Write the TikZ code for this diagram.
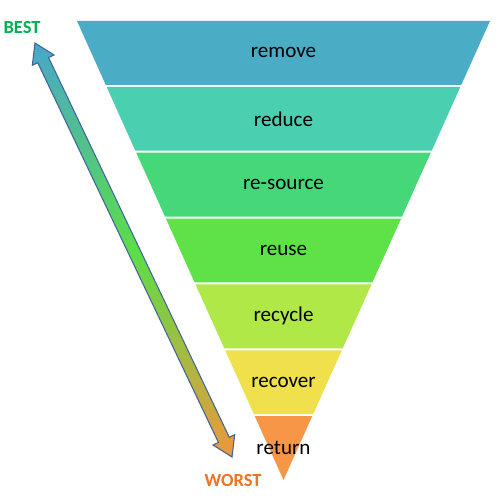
\documentclass[tikz,border=0pt]{standalone}
\usepackage{fontspec}
\setmainfont{Carlito}
\definecolor{cA}{RGB}{75,172,198}
\definecolor{cB}{RGB}{74,208,176}
\definecolor{cC}{RGB}{70,216,120}
\definecolor{cD}{RGB}{94,226,72}
\definecolor{cE}{RGB}{176,232,72}
\definecolor{cF}{RGB}{240,224,76}
\definecolor{cG}{RGB}{247,150,70}
\definecolor{bestgreen}{RGB}{0,176,80}
\definecolor{worstorange}{RGB}{236,116,34}
\definecolor{arrowline}{RGB}{65,100,150}
\definecolor{arrtop}{RGB}{72,168,200}
\definecolor{arrmid}{RGB}{92,222,72}
\definecolor{arrbot}{RGB}{240,150,60}
\begin{document}
\begin{tikzpicture}[x=0.02cm,y=-0.02cm,
  lbl/.style={font=\fontsize{12}{14}\selectfont, text=black, inner sep=0pt},
  endlbl/.style={font=\fontsize{10.5}{12}\selectfont\bfseries, inner sep=0pt},
  arrowoutline/.style={draw=arrowline, line width=0.6pt, line join=miter}]
\fill[white] (0,0) rectangle (500,500);
\useasboundingbox (0,0) rectangle (500,500);
\foreach \lab/\col [count=\i from 0] in {remove/cA,reduce/cB,re-source/cC,reuse/cD,recycle/cE,recover/cF,return/cG}{
  \pgfmathsetmacro\yt{21+\i*65.857}
  \pgfmathsetmacro\yb{\yt+63.857}
  \pgfmathsetmacro\wt{0.44989*(480-\yt)}
  \pgfmathsetmacro\wb{0.44989*(480-\yb)}
  \pgfmathsetmacro\ym{(\yt+\yb)/2}
  \fill[\col] (283.5-\wt,\yt) -- (283.5+\wt,\yt) -- (283.5+\wb,\yb) -- (283.5-\wb,\yb) -- cycle;
  \node[lbl] (b\i) at (283.5,\ym) {\lab};
}
\coordinate (A) at (35,43);
\coordinate (B) at (232,457);
\def\arrowpath{(A) -- (32.32,65.32) -- (37.74,62.74) -- (218.42,442.42) -- (213.00,445.00)
  -- (B) -- (234.68,434.68) -- (229.26,437.26) -- (48.58,57.58) -- (54.00,55.00) -- cycle}
\begin{scope}
  \clip \arrowpath;
  \foreach \k in {0,...,39}{
    \pgfmathsetmacro\ta{\k/80}
    \pgfmathsetmacro\tb{(\k+1.3)/80}
    \pgfmathsetmacro\pc{100-\k*2.5}
    \fill[arrtop!\pc!arrmid]
      ({35+197*\ta-14},{43+414*\ta+6.7}) -- ({35+197*\ta+14},{43+414*\ta-6.7})
      -- ({35+197*\tb+14},{43+414*\tb-6.7}) -- ({35+197*\tb-14},{43+414*\tb+6.7}) -- cycle;
  }
  \foreach \k in {40,...,79}{
    \pgfmathsetmacro\ta{\k/80}
    \pgfmathsetmacro\tb{(\k+1.3)/80}
    \pgfmathsetmacro\pc{100-(\k-40)*2.5}
    \fill[arrmid!\pc!arrbot]
      ({35+197*\ta-14},{43+414*\ta+6.7}) -- ({35+197*\ta+14},{43+414*\ta-6.7})
      -- ({35+197*\tb+14},{43+414*\tb-6.7}) -- ({35+197*\tb-14},{43+414*\tb+6.7}) -- cycle;
  }
\end{scope}
\draw[arrowoutline] \arrowpath;
\node[endlbl, text=bestgreen] (best) at (22,28) {BEST};
\node[endlbl, text=worstorange] (worst) at (233,481) {WORST};
\end{tikzpicture}
\end{document}
